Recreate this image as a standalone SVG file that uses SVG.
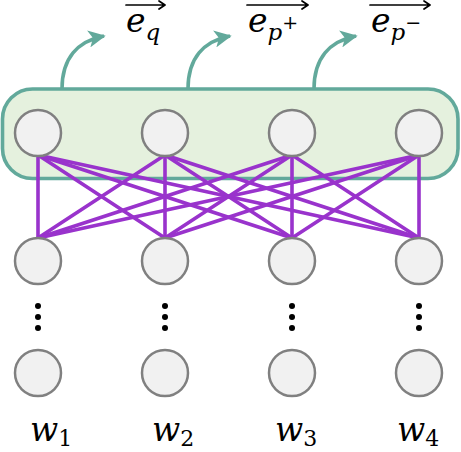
<svg xmlns="http://www.w3.org/2000/svg" width="461" height="452" viewBox="0 0 461 452">
<defs>
<style>
.node{fill:#f1f1f1;stroke:#808080;stroke-width:2.5}
.edge{stroke:#9933cc;stroke-width:3.6;fill:none;stroke-linecap:round}
.out{stroke:#62a99b;stroke-width:3.6;fill:none}
.vec{stroke:#000;stroke-width:1.7;fill:none;stroke-linecap:round;stroke-linejoin:round}
.math{font-family:"DejaVu Serif","Liberation Serif",serif;font-style:italic;fill:#000}
.up{font-style:normal}
.dot{fill:#000}
</style>
<marker id="ah" viewBox="0 0 10 10" refX="9" refY="5" markerWidth="4.8" markerHeight="4.8" orient="auto">
<path d="M0,0 L10,5 L0,10 L2.5,5 z" fill="#62a99b"/>
</marker>
</defs>
<g id="encoder-box">
<rect x="2.5" y="89" width="455.5" height="89.5" rx="30" ry="30" fill="#e5f1de" stroke="#62a99b" stroke-width="3.6"/>
</g>
<g id="outputs">
<path class="out" d="M62,89 C62,58 78,41 104,36" marker-end="url(#ah)"/>
<path class="out" d="M188,89 C188,58 204,41 230,36" marker-end="url(#ah)"/>
<path class="out" d="M314,89 C314,58 330,41 356,36" marker-end="url(#ah)"/>
</g>
<g id="connectors">
<line class="edge" x1="38" y1="155" x2="38" y2="238"/>
<line class="edge" x1="38" y1="155" x2="165" y2="238"/>
<line class="edge" x1="38" y1="155" x2="292" y2="238"/>
<line class="edge" x1="38" y1="155" x2="419" y2="238"/>
<line class="edge" x1="165" y1="155" x2="38" y2="238"/>
<line class="edge" x1="165" y1="155" x2="165" y2="238"/>
<line class="edge" x1="165" y1="155" x2="292" y2="238"/>
<line class="edge" x1="165" y1="155" x2="419" y2="238"/>
<line class="edge" x1="292" y1="155" x2="38" y2="238"/>
<line class="edge" x1="292" y1="155" x2="165" y2="238"/>
<line class="edge" x1="292" y1="155" x2="292" y2="238"/>
<line class="edge" x1="292" y1="155" x2="419" y2="238"/>
<line class="edge" x1="419" y1="155" x2="38" y2="238"/>
<line class="edge" x1="419" y1="155" x2="165" y2="238"/>
<line class="edge" x1="419" y1="155" x2="292" y2="238"/>
<line class="edge" x1="419" y1="155" x2="419" y2="238"/>
</g>
<g id="top-1"><circle class="node" cx="38" cy="133" r="23"/></g>
<g id="top-2"><circle class="node" cx="165" cy="133" r="23"/></g>
<g id="top-3"><circle class="node" cx="292" cy="133" r="23"/></g>
<g id="top-4"><circle class="node" cx="419" cy="133" r="23"/></g>
<g id="mid-1"><circle class="node" cx="38" cy="261" r="23"/></g>
<g id="mid-2"><circle class="node" cx="165" cy="261" r="23"/></g>
<g id="mid-3"><circle class="node" cx="292" cy="261" r="23"/></g>
<g id="mid-4"><circle class="node" cx="419" cy="261" r="23"/></g>
<g id="dots">
<circle class="dot" cx="38" cy="306" r="3"/><circle class="dot" cx="38" cy="317" r="3"/><circle class="dot" cx="38" cy="328" r="3"/>
<circle class="dot" cx="165" cy="306" r="3"/><circle class="dot" cx="165" cy="317" r="3"/><circle class="dot" cx="165" cy="328" r="3"/>
<circle class="dot" cx="292" cy="306" r="3"/><circle class="dot" cx="292" cy="317" r="3"/><circle class="dot" cx="292" cy="328" r="3"/>
<circle class="dot" cx="419" cy="306" r="3"/><circle class="dot" cx="419" cy="317" r="3"/><circle class="dot" cx="419" cy="328" r="3"/>
</g>
<g id="w1"><circle class="node" cx="38" cy="373" r="23"/><text class="math" x="30" y="441" font-size="33">w<tspan class="up" font-size="22" dy="5">1</tspan></text></g>
<g id="w2"><circle class="node" cx="165" cy="373" r="23"/><text class="math" x="152" y="441" font-size="33">w<tspan class="up" font-size="22" dy="5">2</tspan></text></g>
<g id="w3"><circle class="node" cx="292" cy="373" r="23"/><text class="math" x="275" y="441" font-size="33">w<tspan class="up" font-size="22" dy="5">3</tspan></text></g>
<g id="w4"><circle class="node" cx="419" cy="373" r="23"/><text class="math" x="397" y="441" font-size="33">w<tspan class="up" font-size="22" dy="5">4</tspan></text></g>
<g id="label-eq">
<text class="math" x="126" y="32" font-size="33">e<tspan font-size="23" dy="8">q</tspan></text>
<path class="vec" d="M126,5 H165 M159,1 L165,5 L159,9"/>
</g>
<g id="label-ep-plus">
<text class="math" x="248" y="32" font-size="33">e<tspan font-size="23" dy="8">p</tspan><tspan class="up" font-size="19" dy="-11">+</tspan></text>
<path class="vec" d="M247,5 H308 M302,1 L308,5 L302,9"/>
</g>
<g id="label-ep-minus">
<text class="math" x="371" y="32" font-size="33">e<tspan font-size="23" dy="8">p</tspan><tspan class="up" font-size="19" dy="-11">−</tspan></text>
<path class="vec" d="M370,5 H430 M424,1 L430,5 L424,9"/>
</g>
</svg>
